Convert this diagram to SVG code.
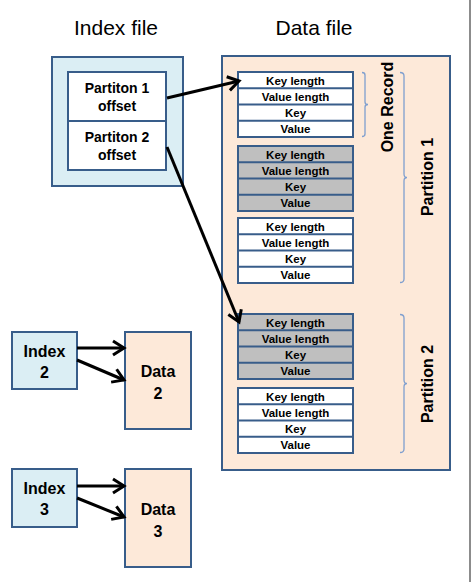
<svg xmlns="http://www.w3.org/2000/svg" width="474" height="582" viewBox="0 0 474 582">
<defs>
<style>
.title{font-family:"Liberation Sans",Arial,sans-serif;font-size:21px;fill:#000;text-anchor:middle}
.b{font-family:"Liberation Sans",Arial,sans-serif;font-weight:bold;fill:#000;text-anchor:middle}
.rec{font-family:"Liberation Sans",Arial,sans-serif;font-weight:bold;font-size:11.5px;fill:#000;text-anchor:middle}
.box{stroke:#385d8a;stroke-width:2}
.idx{fill:#dbeef4}
.dat{fill:#fde9d9}
.w{fill:#ffffff}
.g{fill:#bfbfbf}
.brace{fill:none;stroke:#7f9fcf;stroke-width:1.3}
.conn{stroke:#000;stroke-width:3;fill:none}
</style>
<marker id="arr" markerUnits="userSpaceOnUse" markerWidth="18" markerHeight="18" viewBox="0 0 18 18" refX="15" refY="9" orient="auto">
<path d="M4,2 L15,9 L4,16" fill="none" stroke="#000" stroke-width="3" stroke-linejoin="miter"/>
</marker>
</defs>
<rect width="474" height="582" fill="#fff"/>
<line x1="470" y1="0" x2="470" y2="582" stroke="#666" stroke-width="1.5"/>

<text class="title" x="116" y="35">Index file</text>
<text class="title" x="314" y="35">Data file</text>

<g id="index-file">
<rect class="box idx" x="52" y="57" width="131" height="129"/>
<g id="partition1-offset">
<rect class="box w" x="68" y="72" width="98" height="49"/>
<text class="b" font-size="14" x="117" y="93">Partiton 1</text>
<text class="b" font-size="14" x="117" y="111">offset</text>
</g>
<g id="partition2-offset">
<rect class="box w" x="68" y="121" width="98" height="49"/>
<text class="b" font-size="14" x="117" y="142">Partiton 2</text>
<text class="b" font-size="14" x="117" y="160">offset</text>
</g>
</g>

<g id="data-file">
<rect class="box dat" x="222" y="56" width="228" height="414"/>
</g>

<g id="record1">
<rect class="box w" x="238" y="72" width="115" height="65"/>
<line class="box" x1="238" y1="88.25" x2="353" y2="88.25"/>
<line class="box" x1="238" y1="104.5" x2="353" y2="104.5"/>
<line class="box" x1="238" y1="120.75" x2="353" y2="120.75"/>
<text class="rec" x="295.5" y="84.5">Key length</text>
<text class="rec" x="295.5" y="100.5">Value length</text>
<text class="rec" x="295.5" y="117">Key</text>
<text class="rec" x="295.5" y="133">Value</text>
</g>
<g id="record2">
<rect class="box g" x="238" y="146" width="115" height="65"/>
<line class="box" x1="238" y1="162.25" x2="353" y2="162.25"/>
<line class="box" x1="238" y1="178.5" x2="353" y2="178.5"/>
<line class="box" x1="238" y1="194.75" x2="353" y2="194.75"/>
<text class="rec" x="295.5" y="158.5">Key length</text>
<text class="rec" x="295.5" y="174.5">Value length</text>
<text class="rec" x="295.5" y="191">Key</text>
<text class="rec" x="295.5" y="207">Value</text>
</g>
<g id="record3">
<rect class="box w" x="238" y="218" width="115" height="65"/>
<line class="box" x1="238" y1="234.25" x2="353" y2="234.25"/>
<line class="box" x1="238" y1="250.5" x2="353" y2="250.5"/>
<line class="box" x1="238" y1="266.75" x2="353" y2="266.75"/>
<text class="rec" x="295.5" y="230.5">Key length</text>
<text class="rec" x="295.5" y="246.5">Value length</text>
<text class="rec" x="295.5" y="263">Key</text>
<text class="rec" x="295.5" y="279">Value</text>
</g>
<g id="record4">
<rect class="box g" x="238" y="314" width="115" height="65"/>
<line class="box" x1="238" y1="330.25" x2="353" y2="330.25"/>
<line class="box" x1="238" y1="346.5" x2="353" y2="346.5"/>
<line class="box" x1="238" y1="362.75" x2="353" y2="362.75"/>
<text class="rec" x="295.5" y="326.5">Key length</text>
<text class="rec" x="295.5" y="342.5">Value length</text>
<text class="rec" x="295.5" y="359">Key</text>
<text class="rec" x="295.5" y="375">Value</text>
</g>
<g id="record5">
<rect class="box w" x="238" y="388" width="115" height="65"/>
<line class="box" x1="238" y1="404.25" x2="353" y2="404.25"/>
<line class="box" x1="238" y1="420.5" x2="353" y2="420.5"/>
<line class="box" x1="238" y1="436.75" x2="353" y2="436.75"/>
<text class="rec" x="295.5" y="400.5">Key length</text>
<text class="rec" x="295.5" y="416.5">Value length</text>
<text class="rec" x="295.5" y="433">Key</text>
<text class="rec" x="295.5" y="449">Value</text>
</g>

<g id="one-record-label">
<path class="brace" d="M362,72.5 Q365,72.5 365,75 L365,102 Q365,104.5 368,104.5 Q365,104.5 365,107 L365,134 Q365,136.5 362,136.5"/>
<text class="b" font-size="16" transform="translate(393,107) rotate(-90)">One Record</text>
</g>
<g id="partition1-label">
<path class="brace" d="M400,72.5 Q404,72.5 404,76 L404,174 Q404,177.5 407,177.5 Q404,177.5 404,181 L404,279 Q404,282.5 400,282.5"/>
<text class="b" font-size="16" transform="translate(433,177) rotate(-90)">Partition 1</text>
</g>
<g id="partition2-label">
<path class="brace" d="M400,314.5 Q404,314.5 404,318 L404,380 Q404,383.5 407,383.5 Q404,383.5 404,387 L404,449 Q404,452.5 400,452.5"/>
<text class="b" font-size="16" transform="translate(433,384) rotate(-90)">Partition 2</text>
</g>

<g id="index2">
<rect class="box idx" x="12" y="332" width="65" height="57"/>
<text class="b" font-size="16" x="44.5" y="357">Index</text>
<text class="b" font-size="16" x="44.5" y="378">2</text>
</g>
<g id="data2">
<rect class="box dat" x="125" y="332" width="66" height="97"/>
<text class="b" font-size="16" x="158" y="377">Data</text>
<text class="b" font-size="16" x="158" y="399">2</text>
</g>
<g id="index3">
<rect class="box idx" x="12" y="469" width="65" height="58"/>
<text class="b" font-size="16" x="44.5" y="494">Index</text>
<text class="b" font-size="16" x="44.5" y="515">3</text>
</g>
<g id="data3">
<rect class="box dat" x="125" y="469" width="66" height="98"/>
<text class="b" font-size="16" x="158" y="515">Data</text>
<text class="b" font-size="16" x="158" y="537">3</text>
</g>

<g id="connectors">
<line class="conn" x1="167" y1="98" x2="239" y2="81" marker-end="url(#arr)"/>
<line class="conn" x1="167" y1="147" x2="239" y2="322" marker-end="url(#arr)"/>
<line class="conn" x1="77" y1="348" x2="124" y2="348" marker-end="url(#arr)"/>
<line class="conn" x1="77" y1="360" x2="124" y2="380" marker-end="url(#arr)"/>
<line class="conn" x1="77" y1="486" x2="124" y2="486" marker-end="url(#arr)"/>
<line class="conn" x1="77" y1="498" x2="124" y2="517" marker-end="url(#arr)"/>
</g>
</svg>
